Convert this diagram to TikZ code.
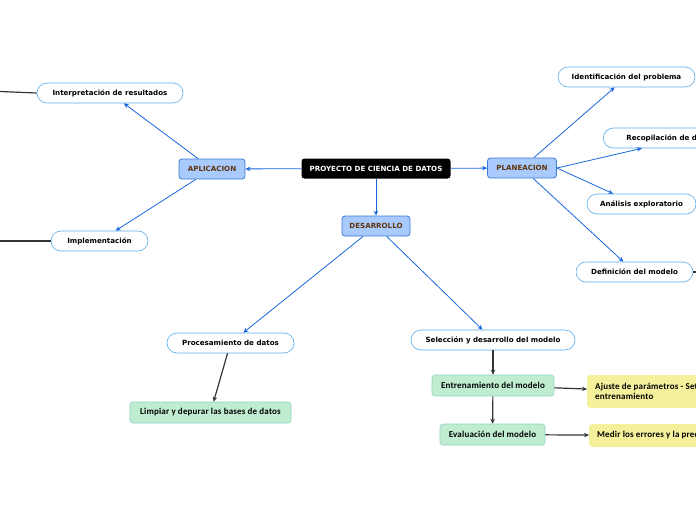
\documentclass[tikz,border=0pt]{standalone}
\usepackage{fontspec}
\setmainfont{DejaVu Sans}
\newfontfamily\notefont[LetterSpace=2]{Carlito}
\usetikzlibrary{arrows.meta}
\definecolor{linkblue}{RGB}{24,102,222}
\definecolor{mainfill}{RGB}{168,202,252}
\definecolor{mainedge}{RGB}{60,122,216}
\definecolor{maintext}{RGB}{96,52,10}
\definecolor{topicedge}{RGB}{88,172,236}
\definecolor{greenfill}{RGB}{192,236,208}
\definecolor{greenedge}{RGB}{140,212,200}
\definecolor{yellowfill}{RGB}{244,240,156}
\definecolor{darkline}{RGB}{50,54,52}

\begin{document}
\begin{tikzpicture}[x=1pt,y=-1pt]
		\useasboundingbox (0,0) rectangle (696,520);
		\begin{scope}[every node/.style={font=\fontsize{7.1}{8}\selectfont\bfseries,inner sep=0pt,minimum height=20pt}]
			\node[fill=black,text=white,rounded corners=3pt,minimum width=149pt] (root) at (376,168.5) {PROYECTO DE CIENCIA DE DATOS};
			\begin{scope}[every node/.append style={fill=mainfill,draw=mainedge,thick,text=maintext,rounded corners=3pt}]
				\node[minimum width=66pt] (apl) at (212,169) {APLICACION};
				\node[minimum width=69pt] (plan) at (522,168) {PLANEACION};
				\node[minimum width=68pt] (des) at (376,226) {DESARROLLO};
			\end{scope}
			\begin{scope}[every node/.append style={fill=white,draw=topicedge,semithick,rounded corners=10pt}]
				\node[minimum width=146pt] (interp) at (110,93) {Interpretación de resultados};
				\node[minimum width=97pt] (impl) at (99.5,241) {Implementación};
				\node[minimum width=137pt] (ident) at (626.5,77) {Identificación del problema};
				\node[minimum width=134pt,anchor=west] (recop) at (603,138) {Recopilación de datos};
				\node[minimum width=109pt] (anal) at (641.5,204) {Análisis exploratorio};
				\node[minimum width=117pt] (defin) at (634.5,272) {Definición del modelo};
				\node[minimum width=127pt] (proc) at (230.5,343) {Procesamiento de datos};
				\node[minimum width=164pt] (selec) at (493,340) {Selección y desarrollo del modelo};
			\end{scope}
		\end{scope}

		\begin{scope}[every node/.style={font=\notefont\fontsize{9}{10.5}\selectfont\bfseries,inner sep=0pt,minimum height=21pt,rounded corners=3pt}]
			\begin{scope}[every node/.append style={fill=greenfill,draw=greenedge,semithick}]
				\node[minimum width=161pt] (limp) at (210.5,412.5) {Limpiar y depurar las bases de datos};
				\node[minimum width=122pt] (entr) at (493,385.5) {Entrenamiento del modelo};
				\node[minimum width=105pt] (eval) at (492.5,434.5) {Evaluación del modelo};
			\end{scope}
			\begin{scope}[every node/.append style={fill=yellowfill,align=left,anchor=west,inner xsep=8pt}]
				\node[minimum height=33pt] (ajus) at (587,391.5) {Ajuste de parámetros - Set de\\entrenamiento};
				\node[minimum height=23pt] (medir) at (589,435.5) {Medir los errores y la precisión};
			\end{scope}
		\end{scope}

		\coordinate (interpend) at (0,91.5);
		\coordinate (implend) at (0,241);
		\coordinate (definend) at (697,272);

		\begin{scope}[>={Stealth[length=5pt,width=4.5pt]},
		              every edge/.style={draw=linkblue,thick}]
			\path (root) edge[->] (apl);
			\path (root) edge[->] (plan);
			\path (root) edge[->] (des);
			\path (apl) edge[->] (interp);
			\path (apl) edge[->] (impl);
			\path (plan) edge[->] (ident);
			\path (plan.east) edge[->] (recop.200);
			\path (plan.east) edge[->] (anal.160);
			\path (plan) edge[->] (defin);
			\path (des) edge[->] (proc);
			\path (des) edge[->] (selec);
		\end{scope}

		\begin{scope}[>={Stealth[length=5pt,width=4.5pt]},
		              every edge/.style={draw=darkline,line width=1.2pt}]
			\path (proc) edge[->] (limp);
			\path (selec) edge[->] (entr);
			\path (entr) edge[->] (eval);
			\path (entr) edge[->] (ajus);
			\path (eval) edge[->] (medir);
			\path (interp.west) edge (interpend);
			\path (impl) edge (implend);
			\path (defin) edge (definend);
		\end{scope}
		\end{tikzpicture}
\end{document}
